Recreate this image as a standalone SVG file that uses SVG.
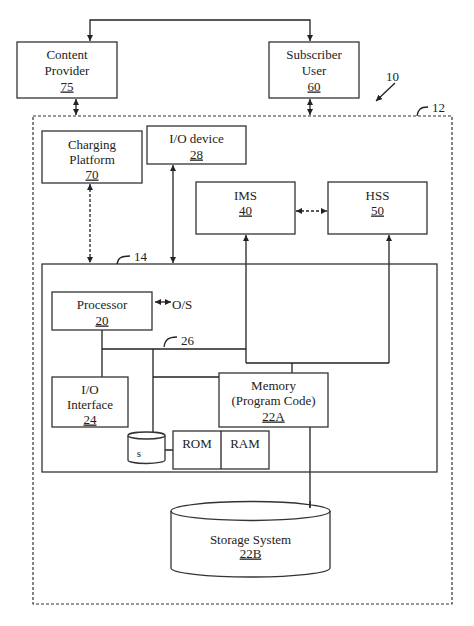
<svg xmlns="http://www.w3.org/2000/svg" width="474" height="626" viewBox="0 0 474 626">
<defs>
<marker id="ar" viewBox="0 0 6 6" refX="6" refY="3" markerWidth="6" markerHeight="6" markerUnits="userSpaceOnUse" orient="auto-start-reverse">
<path d="M0,0 L6,3 L0,6 z" fill="#222"/>
</marker>
<style>
text{font-family:"Liberation Serif","Times New Roman",serif;font-size:13px;fill:#222;text-anchor:middle}
.u{text-decoration:underline}
.l{text-anchor:start}
.b{fill:#fff;stroke:#333;stroke-width:1.3}
.c{fill:none;stroke:#222;stroke-width:1.3}
.d{stroke-dasharray:3,2}
.da{marker-start:url(#ar);marker-end:url(#ar)}
.e{marker-end:url(#ar)}
</style>
</defs>
<rect width="474" height="626" fill="#fff"/>
<g id="system12">
<rect x="33" y="116" width="419" height="488" fill="none" stroke="#333" stroke-width="1.2" class="d"/>
<path class="c" d="M417,116 C418,110 420,107 428,107" stroke-width="1"/>
<text class="l" x="432" y="111.5">12</text>
</g>
<g id="label10">
<text class="l" x="386" y="80.5">10</text>
</g>
<g id="connectors">
<path class="c da" d="M90,41 V20 H310 V41"/>
<line class="c da" x1="76" y1="99" x2="76" y2="115"/>
<line class="c da" x1="310" y1="99" x2="310" y2="115"/>
<line class="c e" x1="395" y1="83" x2="376" y2="101"/>
<line class="c da d" x1="90" y1="184" x2="90" y2="263"/>
<line class="c da" x1="173" y1="165" x2="173" y2="263"/>
<line class="c da d" x1="296" y1="211" x2="327" y2="211"/>
<path class="c e" d="M246,363 V235"/>
<path class="c e" d="M389,363 V235"/>
<path class="c" d="M246,363 H389 M292,363 V373"/>
<line class="c da" x1="155" y1="302" x2="171" y2="302"/>
<path class="c" d="M102,330 V377 M102,349 H246 M153,349 V432 M153,377 H219 M165,450 H173 M310,427 V508"/>
</g>
<g id="content-provider">
<rect class="b" x="17" y="42" width="100" height="56"/>
<text x="67" y="58.5">Content</text>
<text x="67" y="74.5">Provider</text>
<text class="u" x="67" y="90.5">75</text>
</g>
<g id="subscriber-user">
<rect class="b" x="269" y="42" width="90" height="56"/>
<text x="314" y="58.5">Subscriber</text>
<text x="314" y="74.5">User</text>
<text class="u" x="314" y="90.5">60</text>
</g>
<g id="charging-platform">
<rect class="b" x="42" y="131" width="100" height="52"/>
<text x="92" y="148.5">Charging</text>
<text x="92" y="163.5">Platform</text>
<text class="u" x="92" y="178.5">70</text>
</g>
<g id="io-device">
<rect class="b" x="147" y="126" width="99" height="38"/>
<text x="196.5" y="142.5">I/O device</text>
<text class="u" x="196.5" y="158.5">28</text>
</g>
<g id="ims">
<rect class="b" x="196" y="182" width="99" height="52"/>
<text x="245.5" y="199.5">IMS</text>
<text class="u" x="245.5" y="214.5">40</text>
</g>
<g id="hss">
<rect class="b" x="328" y="182" width="99" height="52"/>
<text x="377.5" y="199.5">HSS</text>
<text class="u" x="377.5" y="214.5">50</text>
</g>
<g id="computer14">
<rect x="42" y="264" width="395" height="208" fill="none" stroke="#333" stroke-width="1.3"/>
<path class="c" d="M117,264 C118,258 121,256 130,256" stroke-width="1"/>
<text class="l" x="134" y="260.5">14</text>
<path class="c" d="M164,347 C165,340 168,337 177,337" stroke-width="1"/>
<text class="l" x="181" y="344.5">26</text>
<text class="l" x="172" y="308.5">O/S</text>
</g>
<g id="processor">
<rect class="b" x="52" y="292" width="100" height="38"/>
<text x="102" y="308.5">Processor</text>
<text class="u" x="102" y="324.5">20</text>
</g>
<g id="io-interface">
<rect class="b" x="52" y="377" width="76" height="50"/>
<text x="90" y="393.5">I/O</text>
<text x="90" y="408.5">Interface</text>
<text class="u" x="90" y="423.5">24</text>
</g>
<g id="memory">
<rect class="b" x="219" y="373" width="109" height="54"/>
<text x="273.5" y="389.5">Memory</text>
<text x="273.5" y="404.5">(Program Code)</text>
<text class="u" x="273.5" y="420.5">22A</text>
</g>
<g id="storage-s">
<path class="b" d="M128,435.5 V460 A18.5,3.5 0 0 0 165,460 V435.5"/>
<ellipse class="b" cx="146.5" cy="435.5" rx="18.5" ry="3.5"/>
<text x="139" y="456.5" style="font-size:11px">s</text>
</g>
<g id="rom-ram">
<rect class="b" x="173" y="431" width="96" height="38"/>
<line class="c" x1="221" y1="431" x2="221" y2="469"/>
<text x="197" y="447.5">ROM</text>
<text x="245" y="447.5">RAM</text>
</g>
<g id="storage-system">
<path class="b" d="M171,511 V568 A79.5,9 0 0 0 330,568 V511"/>
<ellipse cx="250.5" cy="511" rx="79.5" ry="9.5" fill="none" stroke="#333" stroke-width="1.3"/>
<line class="c" x1="310" y1="501" x2="310" y2="508"/>
<text x="250.5" y="543.5">Storage System</text>
<text class="u" x="250.5" y="557.5">22B</text>
</g>
</svg>
